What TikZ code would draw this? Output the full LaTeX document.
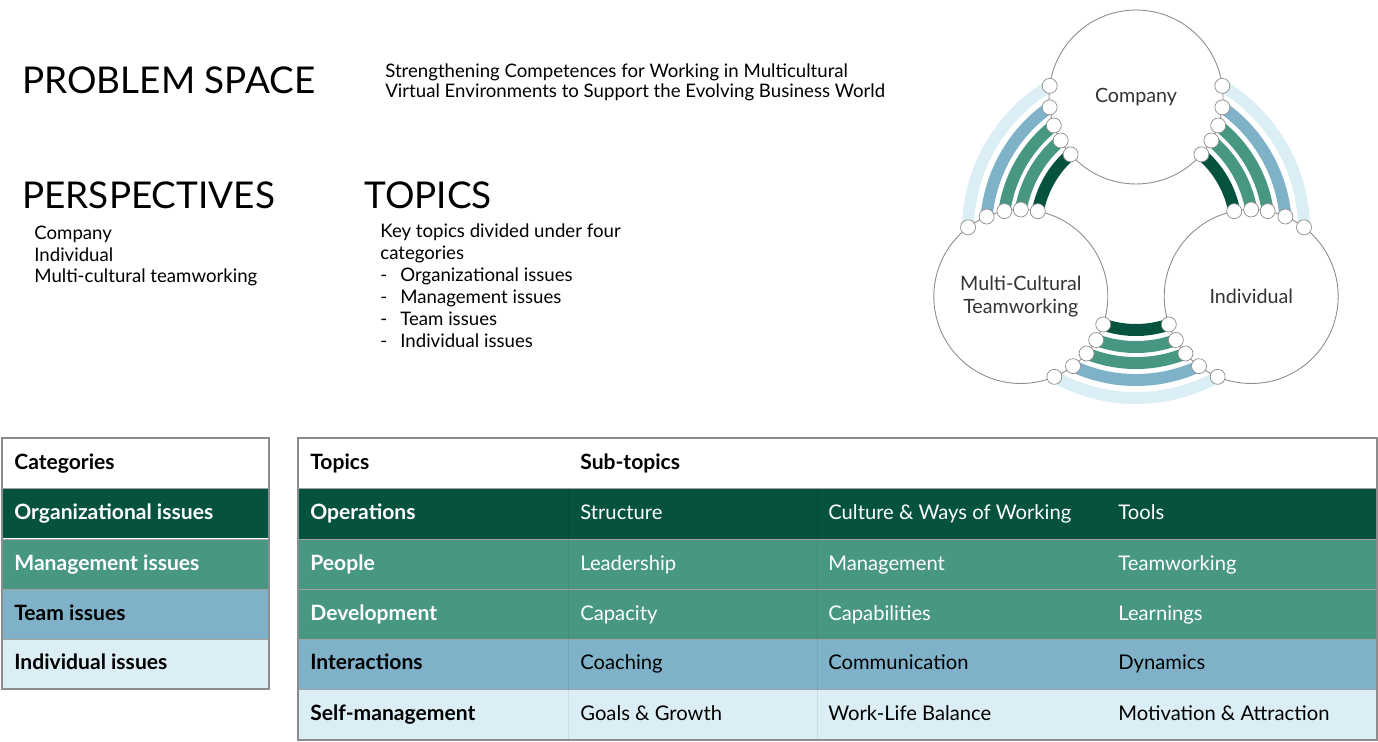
\documentclass[tikz,border=0pt]{standalone}
\usepackage{fontspec}
\setmainfont{Lato}
\usetikzlibrary{positioning}

\definecolor{orgc}{HTML}{05533F}
\definecolor{mgmc}{HTML}{479783}
\definecolor{teamc}{HTML}{7FB2C8}
\definecolor{indc}{HTML}{DCEEF5}
\definecolor{linec}{HTML}{8C8C8C}
\definecolor{txtc}{HTML}{333333}

\tikzset{
  bigtitle/.style={anchor=base west,inner sep=0pt,font=\fontsize{21}{25}\selectfont},
  plain/.style={anchor=north west,inner sep=0pt,align=left,font=\fontsize{10.6}{11.9}\selectfont},
  cellhead/.style={anchor=base west,inner sep=0pt,font=\fontsize{12}{14}\selectfont\bfseries},
  cell/.style={anchor=base west,inner sep=0pt,font=\fontsize{11.5}{14}\selectfont},
  ring/.style={circle,draw=linec,fill=white,line width=0.5pt,minimum size=3.48cm,
    align=center,text=txtc,font=\fontsize{11.2}{13.2}\selectfont},
  knob/.style={draw=linec,fill=white,line width=0.4pt},
  band/.style={line width=0.24cm},
}

\begin{document}
\begin{tikzpicture}[x=0.02cm,y=-0.02cm]
  \useasboundingbox (0,0) rectangle (1378,741);

  % headings
  \node[bigtitle] (problem) at (22,93) {PROBLEM SPACE};
  \node[plain] (scope) at (385,63) {Strengthening Competences for Working in Multicultural\\
    Virtual Environments to Support the Evolving Business World};
  \node[bigtitle] (persp) at (22,208) {PERSPECTIVES};
  \node[plain,font=\fontsize{10.6}{12.2}\selectfont] (persplist) at (34,226)
    {Company\\Individual\\Multi-cultural teamworking};
  \node[bigtitle] (topics) at (364,208) {TOPICS};
  \node[plain,font=\fontsize{10.6}{12.6}\selectfont] (topiclist) at (380,223)
    {Key topics divided under four\\categories\\
     \makebox[0.4cm][l]{-}Organizational issues\\
     \makebox[0.4cm][l]{-}Management issues\\
     \makebox[0.4cm][l]{-}Team issues\\
     \makebox[0.4cm][l]{-}Individual issues};

  % the three perspectives
  \coordinate (M) at (1136,230);
  \foreach \r/\col in {100/orgc,117/mgmc,133/mgmc,150/teamc,168/indc}
    \foreach \a in {30,150,270}
      \draw[band,\col] (M) ++(-\a-60:\r) arc[start angle=-\a-60,end angle=-\a+60,radius=\r];
  \node[ring] (company) at (1136,97) {Company};
  \node[ring] (multi) at (1020.8,296.5) {Multi-Cultural\\Teamworking};
  \node[ring] (indiv) at (1251.2,296.5) {Individual};
  \foreach \r/\h in {100/19.15,117/19.91,133/21.82,150/24.84,168/29.09}
    \foreach \a in {30,150,270} {
      \draw[knob] (M) ++(-\a-\h:\r) circle[radius=7.5];
      \draw[knob] (M) ++(-\a+\h:\r) circle[radius=7.5];
    }

  % categories table
  \foreach \y/\col in {488/orgc,539/mgmc,589/teamc,639/indc}
    \fill[\col] (2,\y) rectangle (269,\y+50);
  \foreach \y in {488,539,589,639}
    \draw[linec!80,line width=0.4pt] (2,\y) -- (269,\y);
  \draw[linec,line width=0.6pt] (2,438) rectangle (269,689);
  \node[cellhead] (cathead) at (14,469) {Categories};
  \node[cellhead,text=white] (catorg) at (14,519) {Organizational issues};
  \node[cellhead,text=white] (catmgm) at (14,570) {Management issues};
  \node[cellhead] (catteam) at (14,620) {Team issues};
  \node[cellhead] (catind) at (14,669) {Individual issues};

  % topics table
  \foreach \y/\h/\col in {488/51/orgc,539/50/mgmc,589/50/mgmc,639/50/teamc,689/51/indc}
    \fill[\col] (298,\y) rectangle (1377,\y+\h);
  \foreach \y in {488,539,589,639,689}
    \draw[linec!80,line width=0.4pt] (298,\y) -- (1377,\y);
  \foreach \x in {568,817}
    \draw[black,opacity=0.08,line width=0.5pt] (\x,488) -- (\x,740);
  \draw[linec,line width=0.6pt] (298,438) rectangle (1377,740);
  \node[cellhead] (tophead) at (310,469) {Topics};
  \node[cellhead] (subhead) at (580,469) {Sub-topics};
  \foreach \n/\y/\tc/\ta/\tb/\tcc/\td in {
      oper/519/white/Operations/Structure/Culture \& Ways of Working/Tools,
      people/570/white/People/Leadership/Management/Teamworking,
      devel/620/white/Development/Capacity/Capabilities/Learnings,
      inter/669/black/Interactions/Coaching/Communication/Dynamics,
      self/720/black/Self-management/Goals \& Growth/Work-Life Balance/Motivation \& Attraction} {
    \node[cellhead,text=\tc] (\n) at (310,\y) {\ta};
    \node[cell,text=\tc] (\n-a) at (580,\y) {\tb};
    \node[cell,text=\tc] (\n-b) at (828,\y) {\tcc};
    \node[cell,text=\tc] (\n-c) at (1118,\y) {\td};
  }
\end{tikzpicture}
\end{document}
